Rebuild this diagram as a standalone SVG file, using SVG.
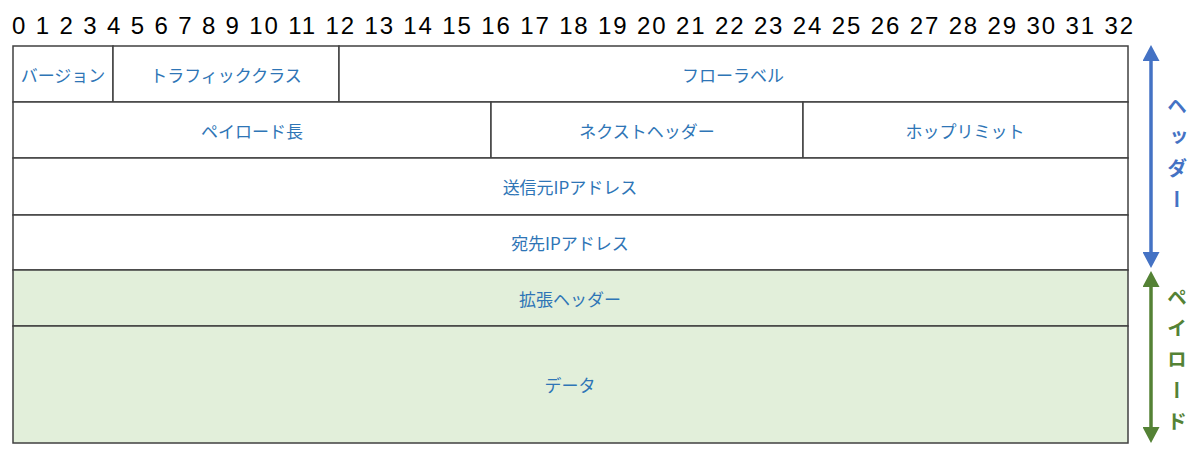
<svg xmlns="http://www.w3.org/2000/svg" width="1200" height="454" viewBox="0 0 1200 454">
<style>
.cell{fill:#ffffff;stroke:#404040;stroke-width:1.5}
.pay{fill:#e2efda;stroke:#404040;stroke-width:1.5}
.lbl{font-family:"Noto Sans CJK JP","Liberation Sans",sans-serif;font-size:17px;fill:#2e75b6;text-anchor:middle;dominant-baseline:central}
.bits{font-family:"Liberation Sans","Noto Sans",sans-serif;font-size:24px;fill:#000000}
.side{font-family:"Noto Sans CJK JP",sans-serif;font-size:20px;font-weight:bold;writing-mode:vertical-rl;letter-spacing:11px}
</style>
<defs>
<marker id="hb" viewBox="0 0 16 17" refX="1" refY="8.5" markerWidth="16" markerHeight="17" markerUnits="userSpaceOnUse" orient="auto-start-reverse"><path d="M0,0 L16,8.5 L0,17 z" fill="#4472c4"/></marker>
<marker id="hg" viewBox="0 0 16 17" refX="1" refY="8.5" markerWidth="16" markerHeight="17" markerUnits="userSpaceOnUse" orient="auto-start-reverse"><path d="M0,0 L16,8.5 L0,17 z" fill="#548235"/></marker>
</defs>
<rect width="1200" height="454" fill="#ffffff"/>
<text class="bits" x="12" y="34" textLength="1121" lengthAdjust="spacing">0 1 2 3 4 5 6 7 8 9 10 11 12 13 14 15 16 17 18 19 20 21 22 23 24 25 26 27 28 29 30 31 32</text>

<g id="version"><rect class="cell" x="13" y="46" width="100" height="56"/><text class="lbl" x="63" y="74">バージョン</text></g>
<g id="traffic-class"><rect class="cell" x="113" y="46" width="226" height="56"/><text class="lbl" x="226" y="74">トラフィッククラス</text></g>
<g id="flow-label"><rect class="cell" x="339" y="46" width="789" height="56"/><text class="lbl" x="733" y="74">フローラベル</text></g>
<g id="payload-length"><rect class="cell" x="13" y="102" width="478" height="56"/><text class="lbl" x="252" y="130">ペイロード長</text></g>
<g id="next-header"><rect class="cell" x="491" y="102" width="312" height="56"/><text class="lbl" x="647" y="130">ネクストヘッダー</text></g>
<g id="hop-limit"><rect class="cell" x="803" y="102" width="325" height="56"/><text class="lbl" x="965" y="130">ホップリミット</text></g>
<g id="src-ip"><rect class="cell" x="13" y="158" width="1115" height="57"/><text class="lbl" x="570" y="186">送信元IPアドレス</text></g>
<g id="dst-ip"><rect class="cell" x="13" y="215" width="1115" height="55"/><text class="lbl" x="570" y="242">宛先IPアドレス</text></g>
<g id="ext-header"><rect class="pay" x="13" y="270" width="1115" height="56"/><text class="lbl" x="570" y="298">拡張ヘッダー</text></g>
<g id="data"><rect class="pay" x="13" y="326" width="1115" height="117"/><text class="lbl" x="570" y="384">データ</text></g>

<g id="connectors">
<line x1="1151" y1="60" x2="1151" y2="253" stroke="#4472c4" stroke-width="3.5" marker-start="url(#hb)" marker-end="url(#hb)"/>
<line x1="1151" y1="286" x2="1151" y2="428" stroke="#548235" stroke-width="3.5" marker-start="url(#hg)" marker-end="url(#hg)"/>
</g>
<g id="header-label"><text class="side" x="1177" y="96" fill="#4472c4">ヘッダー</text></g>
<g id="payload-label"><text class="side" x="1177" y="287" fill="#548235">ペイロード</text></g>
</svg>
